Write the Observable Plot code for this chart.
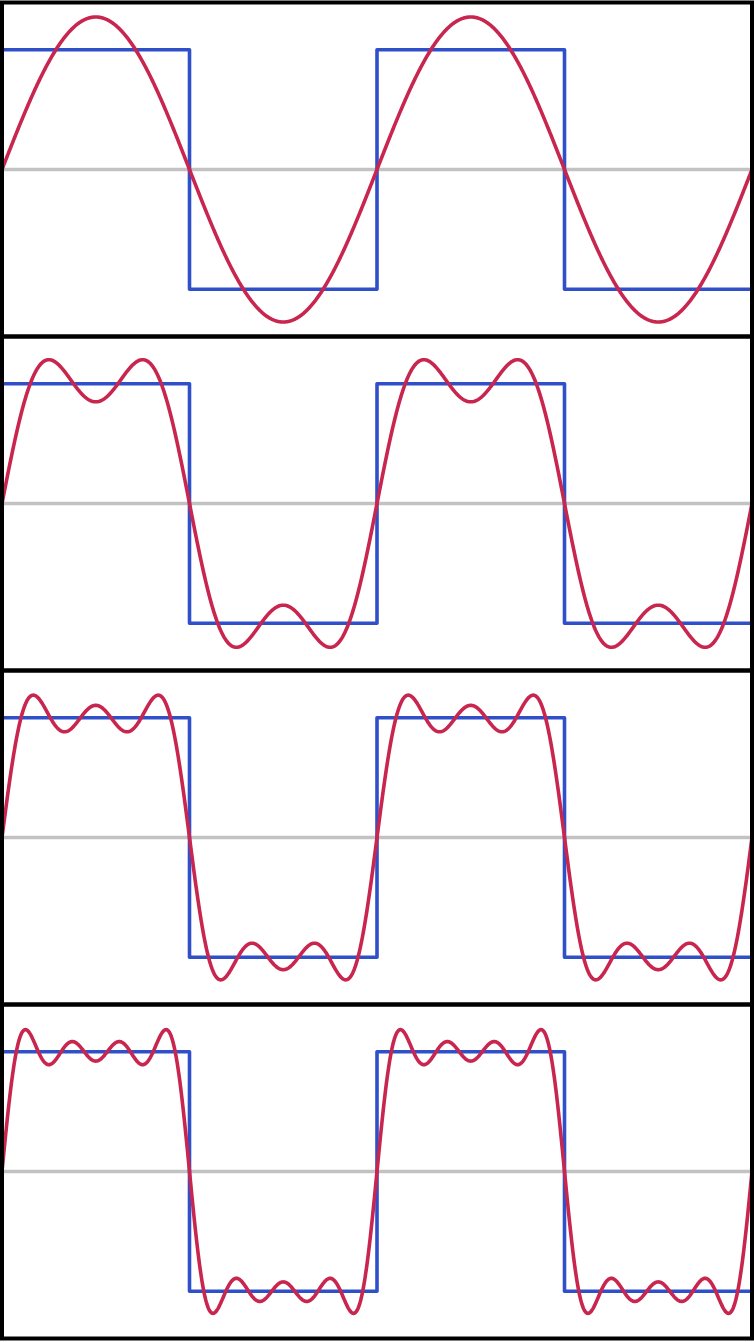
<!DOCTYPE html>
<html><head><meta charset="utf-8">
<script src="https://cdn.jsdelivr.net/npm/d3@7"></script>
<script src="https://cdn.jsdelivr.net/npm/@observablehq/plot@0.6"></script>
<style>html,body{margin:0;padding:0;background:#fff}</style>
</head><body><div id="chart"></div>
<script>
// Panels: number of odd harmonics summed in each panel
const panels = [1, 2, 3, 4];
// Odd harmonics of the square wave and their Fourier amplitudes (4/(pi*n))
const harmonics = [1, 3, 5, 7];
const amplitudes = [1.2732, 0.4244, 0.2546, 0.1819];
// Square wave (x in half-periods)
const squareX = [0, 1, 2, 3, 4];
const squareY = [1, -1, 1, -1, -1];

const square = squareX.map((x, i) => ({x, y: squareY[i]}));

const sums = [];
for (const p of panels) {
  for (let i = 0; i <= 1200; i++) {
    const t = i / 300;
    let y = 0;
    for (let k = 0; k < p; k++) y += amplitudes[k] * Math.sin(harmonics[k] * Math.PI * t);
    sums.push({panel: p, t, y});
  }
}

const chart = Plot.plot({
  width: 754,
  height: 1342,
  marginTop: 1.25,
  marginBottom: 2.75,
  marginLeft: 1.5,
  marginRight: 2.5,
  x: {domain: [0, 4], axis: null},
  y: {domain: [-1.394, 1.394], axis: null},
  fy: {domain: panels, padding: 0, axis: null},
  marks: [
    Plot.ruleY([0], {stroke: "#c2c2c2", strokeWidth: 3.5}),
    Plot.line(square, {x: "x", y: "y", curve: "step-after", stroke: "#2f50c8", strokeWidth: 3.6}),
    Plot.line(sums, {x: "t", y: "y", fy: "panel", stroke: "#c8264f", strokeWidth: 3.6}),
    Plot.frame({stroke: "#000", strokeWidth: 4})
  ]
});
document.getElementById("chart").appendChild(chart);
</script>
</body></html>
